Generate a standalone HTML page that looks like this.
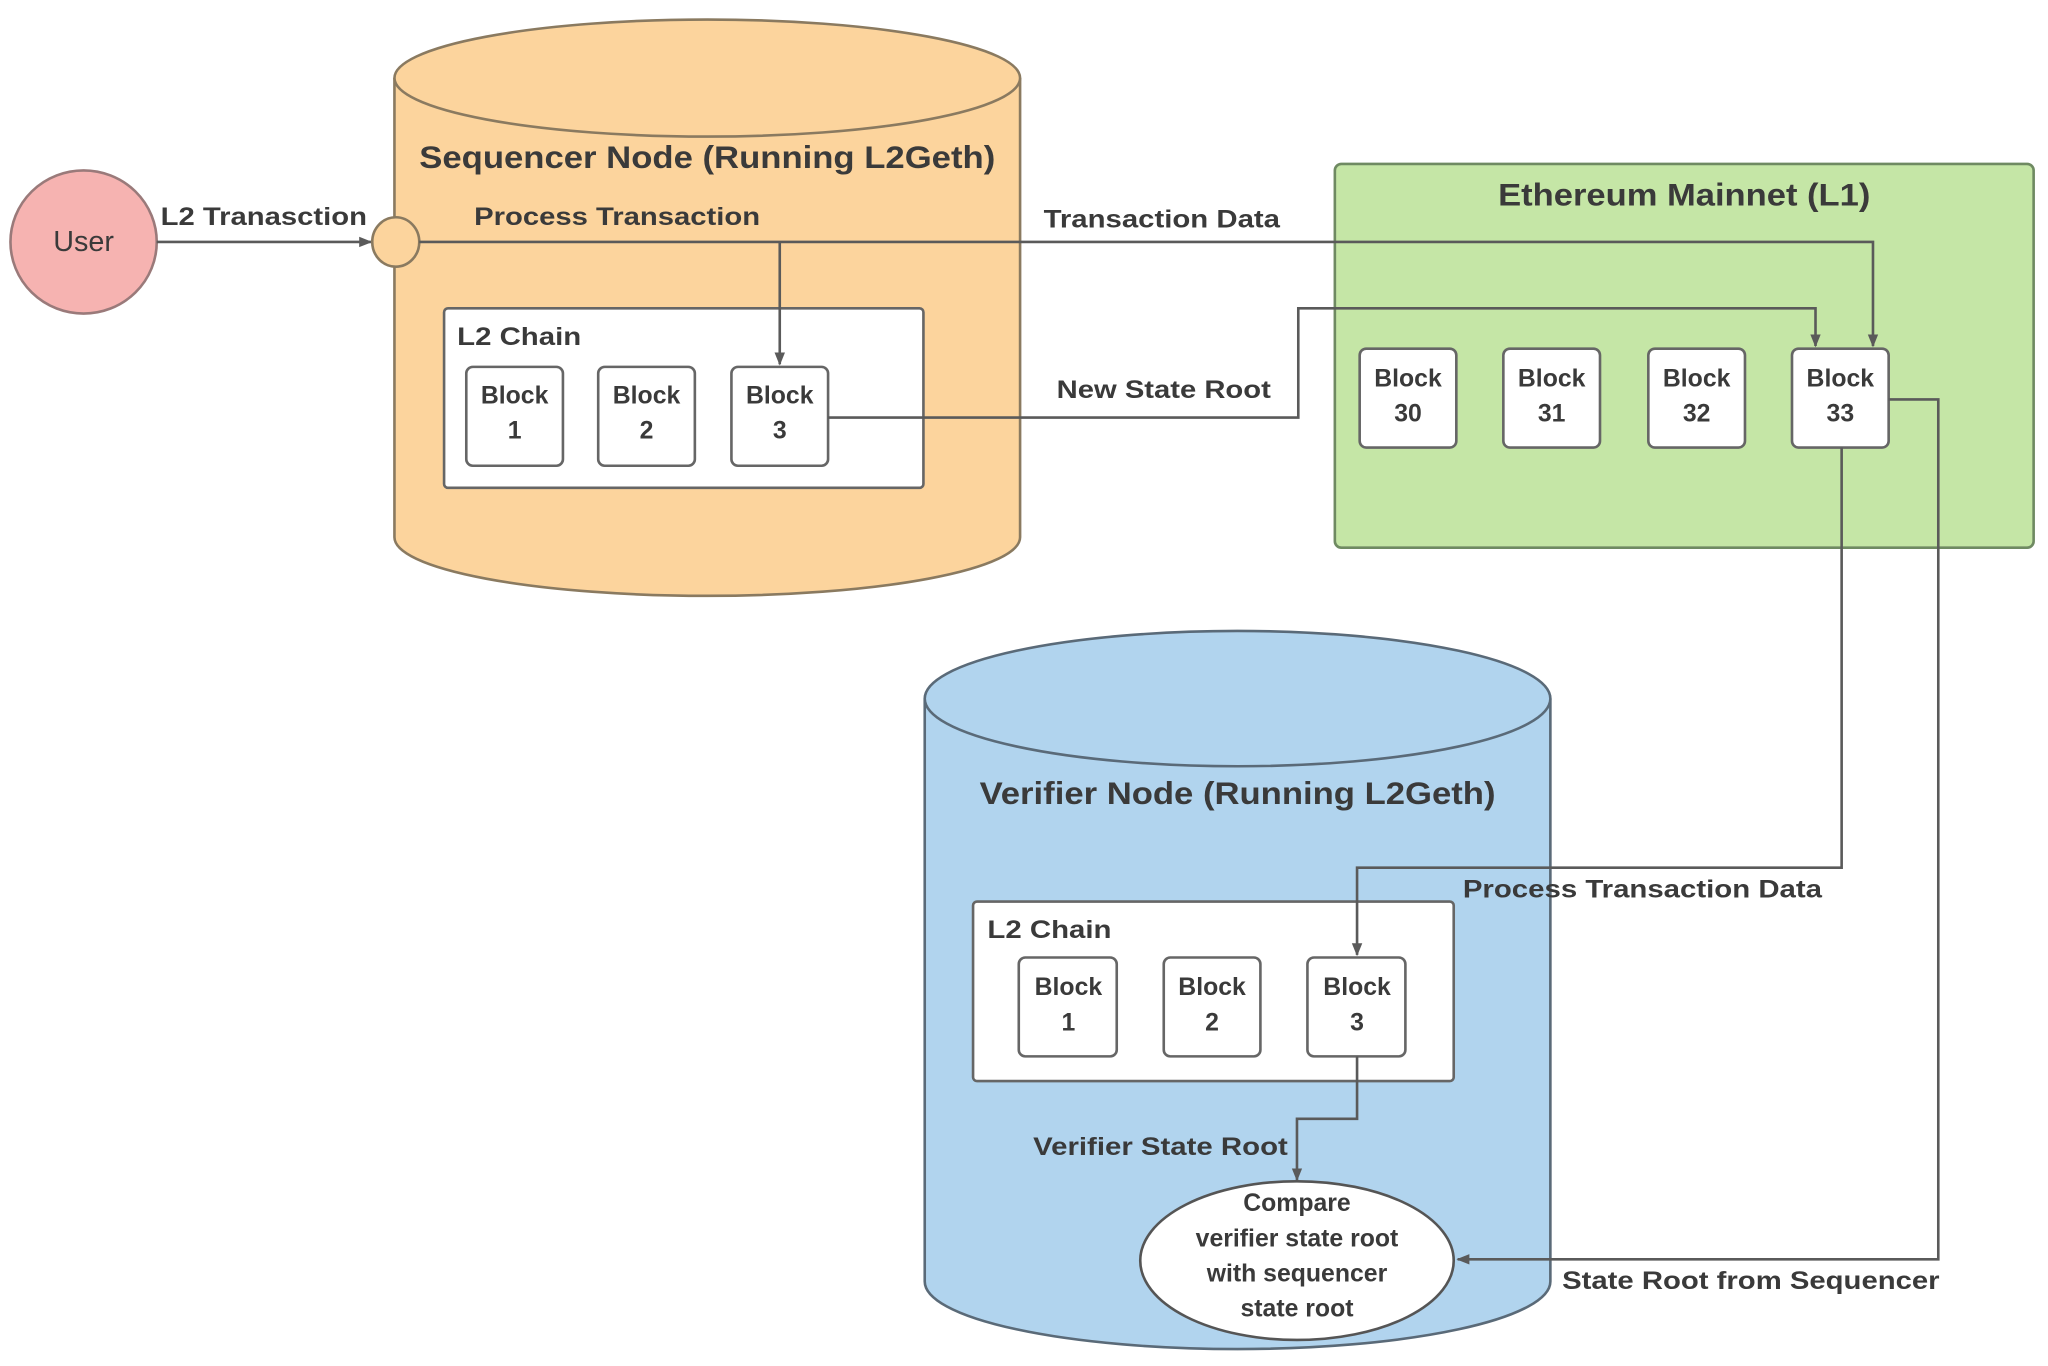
<!DOCTYPE html>
<html><head><meta charset="utf-8"><style>
html,body{margin:0;padding:0;background:#fff;}
svg{display:block;}
text{font-family:"Liberation Sans",sans-serif;fill:#3a3a3a;font-weight:bold;}
</style></head><body>
<svg width="2048" height="1366" viewBox="0 0 1568 1050" preserveAspectRatio="none" xmlns="http://www.w3.org/2000/svg">
<defs>
<marker id="a" markerWidth="10" markerHeight="10" refX="9" refY="5" orient="auto" markerUnits="userSpaceOnUse"><path d="M0,1 L10,5 L0,9 z" fill="#5a5a5a"/></marker>
</defs>
<rect width="1568" height="1050" fill="#fff"/>
<!-- Sequencer cylinder -->
<path d="M302,60 L302,413 A239.5,45 0 0 0 781,413 L781,60" fill="#fcd49d" stroke="#8a7a60" stroke-width="2"/>
<ellipse cx="541.5" cy="60" rx="239.5" ry="45" fill="#fcd49d" stroke="#8a7a60" stroke-width="2"/>
<text x="321" y="129" font-size="24" textLength="441" lengthAdjust="spacingAndGlyphs">Sequencer Node (Running L2Geth)</text>
<!-- Green L1 -->
<rect x="1022" y="126" width="535" height="295" rx="5" fill="#c5e6a6" stroke="#6f8a62" stroke-width="2"/>
<text x="1147" y="158" font-size="24" textLength="285" lengthAdjust="spacingAndGlyphs">Ethereum Mainnet (L1)</text>
<!-- Verifier cylinder -->
<path d="M708,537 L708,985 A239.5,52 0 0 0 1187,985 L1187,537" fill="#b1d4ee" stroke="#5a6a78" stroke-width="2"/>
<ellipse cx="947.5" cy="537" rx="239.5" ry="52" fill="#b1d4ee" stroke="#5a6a78" stroke-width="2"/>
<text x="750" y="618" font-size="24" textLength="395" lengthAdjust="spacingAndGlyphs">Verifier Node (Running L2Geth)</text>
<!-- User -->
<ellipse cx="64" cy="186" rx="56" ry="55" fill="#f6b3b1" stroke="#9a7a7a" stroke-width="2"/>
<text x="64" y="193" font-size="22" text-anchor="middle" style="font-weight:normal">User</text>
<text x="123" y="173" font-size="19" textLength="158" lengthAdjust="spacingAndGlyphs">L2 Tranasction</text>
<line x1="120" y1="186" x2="284" y2="186" stroke="#5a5a5a" stroke-width="2" marker-end="url(#a)"/>
<ellipse cx="303" cy="186" rx="18" ry="19" fill="#fcd49d" stroke="#8a7a60" stroke-width="2"/>
<text x="363" y="173" font-size="19" textLength="219" lengthAdjust="spacingAndGlyphs">Process Transaction</text>
<text x="799" y="175" font-size="19" textLength="181" lengthAdjust="spacingAndGlyphs">Transaction Data</text>
<!-- Seq L2 chain -->
<rect x="340" y="237" width="367" height="138" rx="3" fill="#fff" stroke="#666" stroke-width="2"/>
<text x="350" y="265" font-size="19" textLength="95" lengthAdjust="spacingAndGlyphs">L2 Chain</text>
<g font-size="19" text-anchor="middle">
<rect x="357" y="282" width="74" height="76" rx="5" fill="#fff" stroke="#666" stroke-width="2"/>
<rect x="458" y="282" width="74" height="76" rx="5" fill="#fff" stroke="#666" stroke-width="2"/>
<rect x="560" y="282" width="74" height="76" rx="5" fill="#fff" stroke="#666" stroke-width="2"/>
<text x="394" y="310">Block</text><text x="394" y="337">1</text>
<text x="495" y="310">Block</text><text x="495" y="337">2</text>
<text x="597" y="310">Block</text><text x="597" y="337">3</text>
</g>
<!-- L1 blocks -->
<g font-size="19" text-anchor="middle">
<rect x="1041" y="268" width="74" height="76" rx="5" fill="#fff" stroke="#666" stroke-width="2"/>
<rect x="1151" y="268" width="74" height="76" rx="5" fill="#fff" stroke="#666" stroke-width="2"/>
<rect x="1262" y="268" width="74" height="76" rx="5" fill="#fff" stroke="#666" stroke-width="2"/>
<rect x="1372" y="268" width="74" height="76" rx="5" fill="#fff" stroke="#666" stroke-width="2"/>
<text x="1078" y="297">Block</text><text x="1078" y="324">30</text>
<text x="1188" y="297">Block</text><text x="1188" y="324">31</text>
<text x="1299" y="297">Block</text><text x="1299" y="324">32</text>
<text x="1409" y="297">Block</text><text x="1409" y="324">33</text>
</g>
<!-- Verifier L2 chain -->
<rect x="745" y="693" width="368" height="138" rx="3" fill="#fff" stroke="#666" stroke-width="2"/>
<text x="756" y="721" font-size="19" textLength="95" lengthAdjust="spacingAndGlyphs">L2 Chain</text>
<g font-size="19" text-anchor="middle">
<rect x="780" y="736" width="75" height="76" rx="5" fill="#fff" stroke="#666" stroke-width="2"/>
<rect x="891" y="736" width="74" height="76" rx="5" fill="#fff" stroke="#666" stroke-width="2"/>
<rect x="1001" y="736" width="75" height="76" rx="5" fill="#fff" stroke="#666" stroke-width="2"/>
<text x="818" y="765">Block</text><text x="818" y="792">1</text>
<text x="928" y="765">Block</text><text x="928" y="792">2</text>
<text x="1039" y="765">Block</text><text x="1039" y="792">3</text>
</g>
<!-- connectors -->
<g fill="none" stroke="#5a5a5a" stroke-width="2">
<path d="M321,186 L1434,186 L1434,266" marker-end="url(#a)"/>
<path d="M597,186 L597,280" marker-end="url(#a)"/>
<path d="M634,321 L994,321 L994,237 L1390,237 L1390,266" marker-end="url(#a)"/>
<path d="M1410,344 L1410,667 L1039,667 L1039,734" marker-end="url(#a)"/>
<path d="M1446,307 L1484,307 L1484,968 L1116,968" marker-end="url(#a)"/>
<path d="M1039,812 L1039,860 L993,860 L993,907" marker-end="url(#a)"/>
</g>
<text x="809" y="306" font-size="19" textLength="164" lengthAdjust="spacingAndGlyphs">New State Root</text>
<text x="1120" y="690" font-size="19" textLength="275" lengthAdjust="spacingAndGlyphs">Process Transaction Data</text>
<text x="791" y="888" font-size="19" textLength="195" lengthAdjust="spacingAndGlyphs">Verifier State Root</text>
<text x="1196" y="991" font-size="19" textLength="289" lengthAdjust="spacingAndGlyphs">State Root from Sequencer</text>
<!-- compare ellipse -->
<ellipse cx="993" cy="969" rx="120" ry="61" fill="#fff" stroke="#555" stroke-width="2"/>
<g font-size="19" text-anchor="middle">
<text x="993" y="931">Compare</text>
<text x="993" y="958">verifier state root</text>
<text x="993" y="985">with sequencer</text>
<text x="993" y="1012">state root</text>
</g>
</svg>
</body></html>
